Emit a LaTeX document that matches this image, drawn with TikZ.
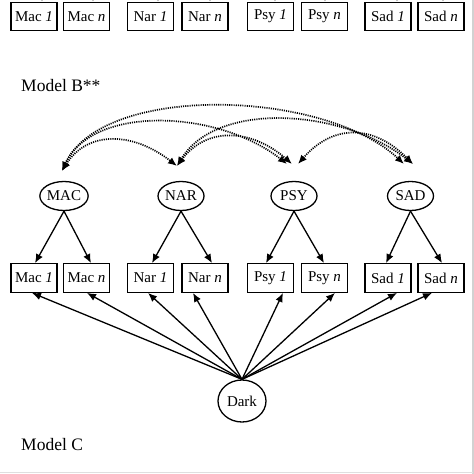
\documentclass[tikz,border=0pt]{standalone}
\usepackage{fontspec}
\setmainfont{Liberation Serif}
\usetikzlibrary{arrows.meta,shapes.geometric}
\begin{document}
\begin{tikzpicture}[x=1pt,y=-1pt,
  obs/.style={draw, line width=1.3pt, minimum width=46pt, minimum height=28.5pt, inner sep=0pt, font=\fontsize{15}{16}\selectfont},
  lat/.style={draw, ellipse, line width=1.3pt, minimum width=46pt, minimum height=29pt, inner sep=0pt, font=\fontsize{15}{16}\selectfont},
  arr/.style={line width=1.3pt, -{Latex[length=9pt,width=7.5pt]}},
  cor/.style={line width=1.7pt, dash pattern=on 1.1pt off 1.1pt, {Latex[length=9pt,width=7.5pt]}-{Latex[length=9pt,width=7.5pt]}},
  lbl/.style={anchor=base west, inner sep=0pt, font=\fontsize{17.5}{20}\selectfont}]
\useasboundingbox (0,0) rectangle (474,474);
\draw[gray!35, line width=1.5pt] (473,0) -- (473,474);
\draw[gray!25, line width=0.8pt] (0,472.5) -- (473,472.5);

% top row (previous model)
\node[obs] (t1) at (34,16.5) {Mac \textit{1}};
\node[obs] (t2) at (86.5,16.5) {Mac \textit{n}};
\node[obs] (t3) at (150.5,16.5) {Nar \textit{1}};
\node[obs] (t4) at (205,16.5) {Nar \textit{n}};
\node[obs] (t5) at (270.5,16.5) {Psy \textit{1}};
\node[obs] (t6) at (324.5,16.5) {Psy \textit{n}};
\node[obs] (t7) at (388,16.5) {Sad \textit{1}};
\node[obs] (t8) at (441,16.5) {Sad \textit{n}};
\foreach \n/\xx in {t1/42,t2/93,t3/158,t4/210,t5/275,t6/325,t7/397,t8/443}{
  \coordinate (s\n) at (\xx,-30);
  \draw[arr] (s\n) -- (\n.north -| s\n);
}

\node[lbl] (lb) at (21,91) {Model B**};

% latent factors
\node[lat] (MAC) at (64,196) {MAC};
\node[lat] (NAR) at (181,196) {NAR};
\node[lat] (PSY) at (294,196) {PSY};
\node[lat] (SAD) at (410.5,196) {SAD};

% indicators
\node[obs] (m1) at (34,278) {Mac \textit{1}};
\node[obs] (m2) at (86.5,278) {Mac \textit{n}};
\node[obs] (n1) at (150.5,278) {Nar \textit{1}};
\node[obs] (n2) at (205,278) {Nar \textit{n}};
\node[obs] (p1) at (270.5,278) {Psy \textit{1}};
\node[obs] (p2) at (324.5,278) {Psy \textit{n}};
\node[obs] (d1) at (388,278) {Sad \textit{1}};
\node[obs] (d2) at (441,278) {Sad \textit{n}};

\draw[arr] (MAC.south) -- ([xshift=1pt]m1.north);
\draw[arr] (MAC.south) -- ([xshift=4.5pt]m2.north);
\draw[arr] (NAR.south) -- ([xshift=1.5pt]n1.north);
\draw[arr] (NAR.south) -- ([xshift=7pt]n2.north);
\draw[arr] (PSY.south) -- ([xshift=-4.5pt]p1.north);
\draw[arr] (PSY.south) -- ([xshift=-0.5pt]p2.north);
\draw[arr] (SAD.south) -- ([xshift=-2pt]d1.north);
\draw[arr] (SAD.south) -- ([xshift=1pt]d2.north);

% correlations
\coordinate (cM) at (62,171);
\coordinate (cN) at (177,166);
\coordinate (cPa) at (287,164);
\coordinate (cPb) at (292,164);
\coordinate (cPc) at (298,164);
\coordinate (cSa) at (404,164);
\coordinate (cSb) at (413,164);
\draw[cor] (cM) .. controls +(25,-40) and +(-45,-35) .. (cN);
\draw[cor] (cM) .. controls +(30,-66) and +(-70,-55) .. (cPa);
\draw[cor] (cM) .. controls +(40,-88) and +(-80,-75) .. (cSa);
\draw[cor] (cN) .. controls +(30,-40) and +(-40,-35) .. (cPb);
\draw[cor] (cN) .. controls +(40,-66) and +(-70,-55) .. (cSb);
\draw[cor] (cPc) .. controls +(35,-40) and +(-40,-40) .. (cSb);

% general factor
\node[lat, minimum width=48pt, minimum height=42pt] (D) at (242,401) {Dark};
\draw[arr] (D.north) -- ([xshift=-2pt]m1.south);
\draw[arr] (D.north) -- ([xshift=0.5pt]m2.south);
\draw[arr] (D.north) -- ([xshift=-2.5pt]n1.south);
\draw[arr] (D.north) -- ([xshift=-12pt]n2.south);
\draw[arr] (D.north) -- ([xshift=12.5pt]p1.south);
\draw[arr] (D.north) -- ([xshift=10.5pt]p2.south);
\draw[arr] (D.north) -- ([xshift=9pt]d1.south);
\draw[arr] (D.north) -- ([xshift=-9pt]d2.south);

\node[lbl] (lc) at (21,450) {Model C};
\end{tikzpicture}
\end{document}
